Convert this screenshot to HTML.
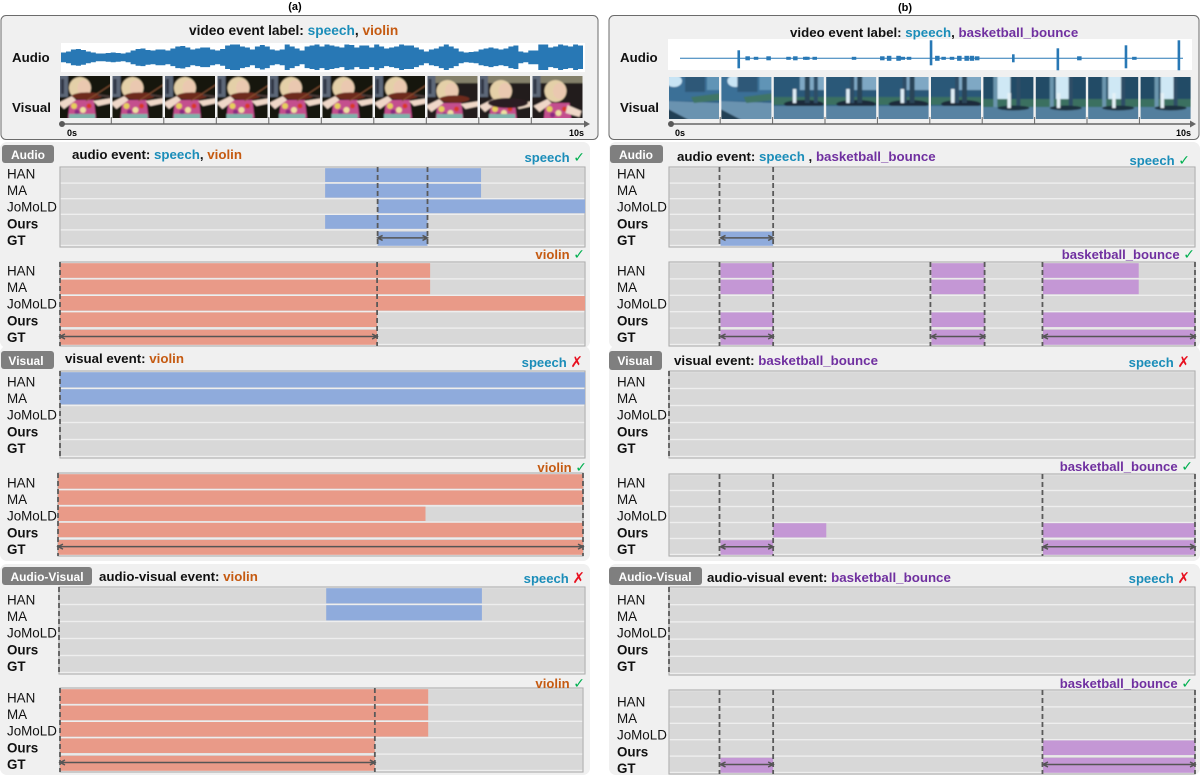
<!DOCTYPE html>
<html lang="en">
<head>
<meta charset="utf-8">
<title>Audio-visual event parsing comparison</title>
<style>
html,body{margin:0;padding:0;background:#fff;width:1200px;height:776px;overflow:hidden}
svg{display:block}
text{font-family:"Liberation Sans",sans-serif}
.b{font-weight:bold}
.sp{fill:#1b8db9}.vi{fill:#c55a11}.bb{fill:#7030a0}
.ok{fill:#00b050;font-family:"DejaVu Sans",sans-serif;font-weight:normal;font-size:14px}
.no{fill:#e8101f;font-family:"DejaVu Sans",sans-serif;font-weight:normal;font-size:15px}
.tt{font-size:13.3px;font-weight:bold;fill:#111}
.vt{font-size:13.7px;font-weight:bold;fill:#111}
.vtb{font-size:13.3px;font-weight:bold;fill:#111}
.lb{font-size:13.1px;font-weight:bold}
.tag{font-size:12px;font-weight:bold;fill:#fff}
</style>
</head>
<body>
<svg id="fig" xmlns="http://www.w3.org/2000/svg" width="1200" height="776" viewBox="0 0 1200 776">
<defs>
<clipPath id="fc"><rect x="0" y="0" width="50" height="42"/></clipPath>
<filter id="bl" x="-10%" y="-10%" width="120%" height="120%"><feGaussianBlur stdDeviation="0.75"/></filter>
</defs>
<rect width="1200" height="776" fill="#fff"/>

<g id="panels" fill="#f0f0f0">
<rect x="0" y="142" width="590" height="206" rx="7"/>
<rect x="0" y="346" width="590" height="215" rx="7"/>
<rect x="0" y="564" width="590" height="211" rx="7"/>
<rect x="609" y="142" width="591" height="206" rx="7"/>
<rect x="609" y="346" width="591" height="215" rx="7"/>
<rect x="609" y="564" width="591" height="211" rx="7"/>
</g>

<rect x="1" y="15.5" width="597" height="124" rx="5" fill="#f0f0f0" stroke="#6b6b6b" stroke-width="1"/>
<rect x="609" y="15.5" width="590" height="124" rx="5" fill="#f0f0f0" stroke="#6b6b6b" stroke-width="1"/>

<rect x="61" y="43" width="524" height="29" fill="#fff"/>
<rect x="668" y="39" width="524" height="31" fill="#fff"/>

<text x="295" y="10" font-size="11" font-weight="bold" text-anchor="middle">(a)</text>
<text x="905" y="11" font-size="11" font-weight="bold" text-anchor="middle">(b)</text>

<text class="vt" x="189" y="35">video event label: <tspan class="sp">speech</tspan>, <tspan class="vi">violin</tspan></text>
<text class="vtb" x="790" y="37">video event label: <tspan class="sp">speech</tspan>, <tspan class="bb">basketball_bounce</tspan></text>

<text class="tt" x="12" y="62">Audio</text>
<text class="tt" x="12" y="112">Visual</text>
<text class="tt" x="620" y="62">Audio</text>
<text class="tt" x="620" y="112">Visual</text>

<g id="waves"></g>
<g id="frames"></g>
<g id="timelines"></g>

<rect x="2" y="145" width="52" height="18" rx="3" fill="#7f7f7f"/>
<text class="tag" x="28" y="159" text-anchor="middle">Audio</text>
<rect x="1" y="351" width="53" height="18" rx="3" fill="#7f7f7f"/>
<text class="tag" x="26" y="365" text-anchor="middle">Visual</text>
<rect x="2" y="567" width="90" height="18" rx="3" fill="#7f7f7f"/>
<text class="tag" x="47" y="581" text-anchor="middle">Audio-Visual</text>
<rect x="610" y="145" width="53" height="18" rx="3" fill="#7f7f7f"/>
<text class="tag" x="636" y="159" text-anchor="middle">Audio</text>
<rect x="609" y="351" width="53" height="19" rx="3" fill="#7f7f7f"/>
<text class="tag" x="635" y="365" text-anchor="middle">Visual</text>
<rect x="609" y="567" width="93" height="18" rx="3" fill="#7f7f7f"/>
<text class="tag" x="655" y="581" text-anchor="middle">Audio-Visual</text>

<text class="tt" x="72" y="159">audio event: <tspan class="sp">speech</tspan>, <tspan class="vi">violin</tspan></text>
<text class="tt" x="65" y="363">visual event: <tspan class="vi">violin</tspan></text>
<text class="tt" x="99" y="581">audio-visual event: <tspan class="vi">violin</tspan></text>
<text class="tt" x="677" y="161">audio event: <tspan class="sp">speech</tspan> , <tspan class="bb">basketball_bounce</tspan></text>
<text class="tt" x="674" y="365">visual event: <tspan class="bb">basketball_bounce</tspan></text>
<text class="tt" x="707" y="582">audio-visual event: <tspan class="bb">basketball_bounce</tspan></text>

<g id="charts"></g>

<g text-anchor="end">
<text class="lb sp" x="585" y="162">speech <tspan class="ok">✓</tspan></text>
<text class="lb vi" x="585" y="259">violin <tspan class="ok">✓</tspan></text>
<text class="lb sp" x="583" y="367">speech <tspan class="no">✗</tspan></text>
<text class="lb vi" x="587" y="472">violin <tspan class="ok">✓</tspan></text>
<text class="lb sp" x="585" y="583">speech <tspan class="no">✗</tspan></text>
<text class="lb vi" x="585" y="688">violin <tspan class="ok">✓</tspan></text>
<text class="lb sp" x="1190" y="165">speech <tspan class="ok">✓</tspan></text>
<text class="lb bb" x="1195" y="259">basketball_bounce <tspan class="ok">✓</tspan></text>
<text class="lb sp" x="1190" y="367">speech <tspan class="no">✗</tspan></text>
<text class="lb bb" x="1193" y="471">basketball_bounce <tspan class="ok">✓</tspan></text>
<text class="lb sp" x="1190" y="583">speech <tspan class="no">✗</tspan></text>
<text class="lb bb" x="1193" y="688">basketball_bounce <tspan class="ok">✓</tspan></text>
</g>
</svg>

<script>
// ---- chart data (seconds, one list of intervals per model row) ----
const models = ['HAN', 'MA', 'JoMoLD', 'Ours', 'GT'];
const timeTickLabels = ['0s', '10s'];

const aAudioSpeech = [[[5.05, 8.02]], [[5.05, 8.02]], [[6.05, 10]], [[5.05, 7]], [[6.05, 7]]];
const aAudioViolin = [[[0, 7.05]], [[0, 7.05]], [[0, 10]], [[0, 6.04]], [[0, 6.04]]];
const aVisualSpeech = [[[0, 10]], [[0, 10]], [], [], []];
const aVisualViolin = [[[0, 10]], [[0, 10]], [[0, 7]], [[0, 10]], [[0, 10]]];
const aAvSpeech = [[[5.08, 8.04]], [[5.08, 8.04]], [], [], []];
const aAvViolin = [[[0, 7.04]], [[0, 7.04]], [[0, 7.04]], [[0, 6.02]], [[0, 6.02]]];

const bAudioSpeech = [[], [], [], [], [[0.98, 1.98]]];
const bAudioBounce = [[[0.98, 1.98], [4.99, 6], [7.11, 8.93]], [[0.98, 1.98], [4.99, 6], [7.11, 8.93]], [], [[0.98, 1.98], [4.99, 6], [7.11, 10]], [[0.98, 1.98], [4.99, 6], [7.11, 10]]];
const bVisualSpeech = [[], [], [], [], []];
const bVisualBounce = [[], [], [], [[1.98, 2.99], [7.11, 10]], [[0.98, 1.98], [7.11, 10]]];
const bAvSpeech = [[], [], [], [], []];
const bAvBounce = [[], [], [], [[7.11, 10]], [[0.98, 1.98], [7.11, 10]]];

const aAudioSpeechBounds = [6.05, 7];
const aAudioViolinBounds = [0, 6.04];
const aVisualSpeechBounds = [0];
const aVisualViolinBounds = [0, 10];
const aAvSpeechBounds = [0];
const aAvViolinBounds = [0, 6.02];
const bAudioSpeechBounds = [0.96, 1.98];
const bAudioBounceBounds = [0.96, 1.98, 4.97, 6, 7.1, 10];
const bVisualSpeechBounds = [0];
const bVisualBounceBounds = [0.96, 1.98, 7.1, 10];
const bAvSpeechBounds = [0];
const bAvBounceBounds = [0.96, 1.98, 7.1, 10];

// audio envelope of clip (a): half-height in px, evenly over 10 s
const waveAmpsA = [5,6,8,8.5,7.5,6,5,4,4,4.5,5,4.5,4,5,7,8.5,9,7.5,7,8,8,7,9,11,11.5,10,8,9,10,10,8,7,8.5,12,13,13,11,10,8,11,12.5,11,8,7,8,13,11,9,7,11,12,13,11,13,12,11,10,13,12.5,10,12,12,10,13,11,9,10,11,13,12,12,10,8,6,8,9,11,13,11,9,6,5,5.5,6,8,9,10,9,8,9,11,12,6,5,7,7,13,13,10,11,13,12,11,13,12];
// audio transients of clip (b): time in s, extent above and below the baseline in px
const waveTimesB = [1.35, 1.52, 1.68, 1.92, 2.3, 2.43, 2.62, 2.66, 2.8, 3.55, 4.09, 4.22, 4.4, 4.48, 4.6, 5.02, 5.14, 5.26, 5.42, 5.56, 5.7, 5.8, 5.9, 6.59, 7.44, 7.85, 8.74, 8.9, 9.75];
const waveUpB = [8, 2, 1.5, 2, 1.5, 2, 1.5, 1.5, 1.5, 1.5, 2, 2.5, 2.5, 1.5, 1.5, 18, 2.5, 1.5, 1.5, 2.5, 2.5, 2.5, 2, 4, 10, 2, 13, 1.5, 18];
const waveDownB = [10, 2, 1.5, 2, 1.5, 2, 1.5, 1.5, 1.5, 1.5, 2, 2.5, 2.5, 1.5, 1.5, 7, 2.5, 1.5, 1.5, 2.5, 2.5, 2.5, 2, 4, 12, 2, 10, 1.5, 12];

// ---- shared helpers ----
const NS = 'http://www.w3.org/2000/svg';
function mk(parent, tag, attrs) {
  const el = document.createElementNS(NS, tag);
  for (const k in attrs) el.setAttribute(k, attrs[k]);
  parent.appendChild(el);
  return el;
}
function linear(d0, d1, r0, r1) {
  return v => r0 + (v - d0) / (d1 - d0) * (r1 - r0);
}

// ---- waveforms ----
const waves = document.getElementById('waves');
(function () {
  const x = linear(0, waveAmpsA.length, 61, 583);
  const cy = 57.5;
  let top = 'M' + x(0) + ' ' + (cy - waveAmpsA[0]), bot = '';
  waveAmpsA.forEach((a, i) => {
    top += 'V' + (cy - a).toFixed(1) + 'H' + x(i + 1).toFixed(1);
  });
  for (let i = waveAmpsA.length - 1; i >= 0; i--) {
    bot += 'V' + (cy + waveAmpsA[i] * 0.96).toFixed(1) + 'H' + x(i).toFixed(1);
  }
  const p = mk(waves, 'path', { d: top + bot + 'Z', fill: '#2878b5' });
  
  

  const tx = linear(0, 10, 668, 1192);
  const cb = 58.3;
  const base = mk(waves, 'line', { x1: 680, x2: 1183, y1: cb, y2: cb, stroke: '#2878b5', 'stroke-width': 1 });
  
  
  waveTimesB.forEach((t, i) => {
    const up = waveUpB[i], dn = waveDownB[i];
    const w = up > 3.5 ? 2.6 : 4.5;
    const s = mk(waves, 'rect', { x: tx(t) - w / 2, y: cb - up, width: w, height: up + dn, fill: '#2878b5' });
    
    
  });
})();

// ---- video frames (schematic thumbnails) ----
const frames = document.getElementById('frames');
function girlFrame(i) {
  const late = i >= 7, last = i === 9, nine = i === 8;
  const dx = [0, 0, 0, 1, 1, 1, 1, 0, 1, 3][i];
  let s = '<g filter="url(#bl)"><rect x="-3" y="-3" width="56" height="48" fill="' + (late ? '#231f1a' : '#171410') + '"/>';
  if (late) s += '<rect x="-3" y="-3" width="56" height="10" fill="#84806a"/>';
  s += '<rect x="-3" y="-3" width="11" height="24" fill="#5d6878"/><rect x="1" y="3" width="3" height="15" fill="#2f3644"/>';
  s += '<g transform="translate(' + dx + ' ' + (late ? 3 : 0) + ')">';
  s += '<ellipse cx="20" cy="12" rx="11" ry="11" fill="#e4d0a8"/><ellipse cx="24" cy="12" rx="6.5" ry="8" fill="#eac8b0"/>';
  s += '<path d="M10 24L34 24L36 42L8 42Z" fill="#c44f8e"/>';
  s += '<circle cx="14" cy="30" r="3" fill="#e6cf5c"/><circle cx="23" cy="34" r="3" fill="#efe0a0"/><circle cx="29" cy="30" r="2.5" fill="#d8382c"/><circle cx="17" cy="36" r="2.5" fill="#8a2a80"/>';
  s += '<path d="M-2 27L12 20L16 24L4 33Z" fill="#efd7c8"/>';
  if (!last) {
    s += '<path d="M33 25L52 22L52 27L38 30Z" fill="#efd8c8"/>';
    s += '<ellipse cx="27" cy="' + (nine ? 24 : 20) + '" rx="' + (nine ? 20 : 15) + '" ry="' + (nine ? 5 : 3.6) + '" fill="' + (nine ? '#2c1e20' : '#6e2c1c') + '"/>';
    if (!late) s += '<path d="M38 19L52 21" stroke="#4a3a38" stroke-width="2"/><path d="M26 25L52 8" stroke="#8a5434" stroke-width="1"/>';
  } else {
    s += '<path d="M32 26L46 32L44 38L30 34Z" fill="#efd8c8"/>';
  }
  s += '</g>';
  if (!last) s += '<rect x="9" y="38" width="26" height="6" fill="#7fb2aa"/>';
  s += '</g>';
  return s;
}
function parkFrame(i) {
  let s = '<g filter="url(#bl)"><rect x="-3" y="-3" width="56" height="48" fill="#2f6184"/>';
  if (i < 2) {
    s += '<rect x="-3" y="-3" width="56" height="27" fill="#3a6f97"/><ellipse cx="' + (i ? 14 : 5) + '" cy="4" rx="8" ry="6" fill="#c8e4f4"/>';
    s += '<rect x="16" y="-3" width="20" height="18" fill="#2d5878"/><rect x="38" y="-3" width="14" height="16" fill="#6094b6"/>';
    s += '<path d="M-3 24L53 26L53 45L-3 45Z" fill="#6a93b0"/><path d="M-3 31L24 45L-3 45Z" fill="#233f54"/>';
    s += '<path d="M22 20L53 16L53 23L25 26Z" fill="#3f7466"/>';
  } else if (i < 6) {
    s += '<rect x="-3" y="-3" width="56" height="27" fill="#2a5878"/><rect x="26" y="-3" width="27" height="16" fill="#7fa8c4"/>';
    s += '<rect x="-3" y="20" width="56" height="8" fill="#3b6f60"/><ellipse cx="30" cy="27" rx="20" ry="4" fill="#1c2c3a"/>';
    s += '<rect x="-3" y="29" width="56" height="16" fill="#5883a3"/>';
    s += '<rect x="31" y="-3" width="5" height="29" fill="#2a4458"/><rect x="' + (i === 2 ? 40 : 24) + '" y="-3" width="4" height="29" fill="#2f4e66"/>';
    s += '<rect x="' + [0, 0, 19, 20, 22, 20][i] + '" y="12" width="3.5" height="14" fill="#e0eef6"/>';
  } else {
    s += '<rect x="-3" y="-3" width="56" height="27" fill="#244c66"/><rect x="' + (i === 6 ? 14 : 20) + '" y="-3" width="13" height="25" fill="#cfe8f5"/>';
    s += '<rect x="-3" y="22" width="56" height="8" fill="#3a7060"/><rect x="-3" y="30" width="56" height="15" fill="#527f9e"/>';
    s += '<rect x="' + (i === 6 ? 10 : 14) + '" y="-3" width="4" height="33" fill="#6c96ae"/><rect x="33" y="-3" width="4" height="33" fill="#2f4e66"/>';
    s += '<ellipse cx="30" cy="31" rx="16" ry="2.5" fill="#1f3040"/>';
    s += '<rect x="' + [0, 0, 0, 0, 0, 0, 24, 21, 24, 20][i] + '" y="16" width="3.5" height="15" fill="#e4f0f6"/>';
  }
  s += '</g>';
  return s;
}
for (let i = 0; i < 10; i++) {
  const ga = mk(frames, 'g', { transform: 'translate(' + (60 + i * 52.5) + ' 76)', 'clip-path': 'url(#fc)' });
  
  
  ga.innerHTML = girlFrame(i);
  const gb = mk(frames, 'g', { transform: 'translate(' + (669 + i * 52.4) + ' 77)', 'clip-path': 'url(#fc)' });
  
  
  gb.innerHTML = parkFrame(i);
}

// ---- input timelines ----
const timelines = document.getElementById('timelines');
function drawTimeline(x0, x1, frame0, pitch, lab0, lab1) {
  const y = 124;
  const ln = mk(timelines, 'line', { x1: x0, x2: x1 - 4, y1: y, y2: y, stroke: '#666', 'stroke-width': 1.4 });
  
  
  const dot = mk(timelines, 'circle', { cx: x0, cy: y, r: 3, fill: '#595959' });
  
  
  const head = mk(timelines, 'path', { d: 'M' + x1 + ' ' + y + 'l-6 -3.5v7z', fill: '#666' });
  
  
  for (let i = 1; i < 10; i++) {
    const tx = frame0 + i * pitch - 1.2;
    const t = mk(timelines, 'line', { x1: tx, x2: tx, y1: 117, y2: y, stroke: '#666', 'stroke-width': 1 });
    
    
  }
  const a = mk(timelines, 'text', { x: lab0, y: 136, 'font-size': 9, 'font-weight': 'bold' });
  
  
  a.textContent = timeTickLabels[0];
  const b = mk(timelines, 'text', { x: lab1, y: 136, 'font-size': 9, 'font-weight': 'bold', 'text-anchor': 'end' });
  
  
  b.textContent = timeTickLabels[1];
}
drawTimeline(62, 590, 60, 52.5, 67, 584);
drawTimeline(671, 1196, 669, 52.4, 675, 1191);

// ---- event charts ----
const charts = document.getElementById('charts');
const BLUE = '#8fabdc', RED = '#e99a88', PURPLE = '#c497d5';

function drawChart(name, x0, x1, y0, y1, labelX, labelY, rows, bounds, color) {
  const g = mk(charts, 'g', {});
  
  
  const xs = linear(0, 10, x0, x1);
  const pitch = (y1 - y0 - 2) / models.length;
  const rowY = i => y0 + 1.2 + i * pitch;

  const frame = mk(g, 'rect', { x: x0, y: y0, width: x1 - x0, height: y1 - y0, fill: '#eeeeee', stroke: '#adadad', 'stroke-width': 1.1 });
  
  

  models.forEach((m, i) => {
    const track = mk(g, 'rect', { x: x0 + 0.6, y: rowY(i), width: x1 - x0 - 1.2, height: pitch - 1.4, fill: '#d8d8d8' });
    
    

    const bold = i >= 3;
    const label = mk(g, 'text', { x: labelX, y: labelY + i * 16.6 + 4.5, 'font-size': 13.4, 'font-weight': bold ? 'bold' : 'normal', fill: '#111' });
    
    
    label.textContent = m;

    rows[i].forEach(seg => {
      const bar = mk(g, 'rect', { x: xs(seg[0]), y: rowY(i) + (i === 4 ? 1 : 0), width: xs(seg[1]) - xs(seg[0]), height: pitch - 1.4 - (i === 4 ? 0 : 0.4), fill: color });
      
      
    });
  });

  bounds.forEach(b => {
    const d = mk(g, 'line', { x1: xs(b), x2: xs(b), y1: y0, y2: y1, stroke: '#5a5a5a', 'stroke-width': 1.8, 'stroke-dasharray': '5 3' });
    
    
  });

  const ay = rowY(4) + pitch * 0.47;
  rows[4].forEach(seg => {
    const a0 = xs(seg[0]), a1 = xs(seg[1]);
    const ar = mk(g, 'path', {
      d: 'M' + a0 + ' ' + ay + 'H' + a1 + 'M' + (a0 + 5) + ' ' + (ay - 2.5) + 'L' + a0 + ' ' + ay + 'L' + (a0 + 5) + ' ' + (ay + 2.5) + 'M' + (a1 - 5) + ' ' + (ay - 2.5) + 'L' + a1 + ' ' + ay + 'L' + (a1 - 5) + ' ' + (ay + 2.5),
      fill: 'none', stroke: '#555', 'stroke-width': 1.5
    });
    
    
  });
}

drawChart('chart-a-audio-speech', 60, 585, 167, 247, 7, 174, aAudioSpeech, aAudioSpeechBounds, BLUE);
drawChart('chart-a-audio-violin', 60, 585, 262, 346, 7, 271, aAudioViolin, aAudioViolinBounds, RED);
drawChart('chart-a-visual-speech', 60, 585, 371, 458, 7, 382, aVisualSpeech, aVisualSpeechBounds, BLUE);
drawChart('chart-a-visual-violin', 58, 583, 473, 556, 7, 483, aVisualViolin, aVisualViolinBounds, RED);
drawChart('chart-a-av-speech', 59, 585, 587, 674, 7, 600, aAvSpeech, aAvSpeechBounds, BLUE);
drawChart('chart-a-av-violin', 60, 583, 688, 772, 7, 698, aAvViolin, aAvViolinBounds, RED);
drawChart('chart-b-audio-speech', 669, 1195, 167, 247, 617, 174, bAudioSpeech, bAudioSpeechBounds, BLUE);
drawChart('chart-b-audio-bounce', 669, 1195, 262, 346, 617, 271, bAudioBounce, bAudioBounceBounds, PURPLE);
drawChart('chart-b-visual-speech', 669, 1195, 371, 458, 617, 382, bVisualSpeech, bVisualSpeechBounds, BLUE);
drawChart('chart-b-visual-bounce', 669, 1195, 474, 556, 617, 483, bVisualBounce, bVisualBounceBounds, PURPLE);
drawChart('chart-b-av-speech', 669, 1195, 587, 675, 617, 600, bAvSpeech, bAvSpeechBounds, BLUE);
drawChart('chart-b-av-bounce', 669, 1195, 690, 774, 617, 702, bAvBounce, bAvBounceBounds, PURPLE);
</script>
</body>
</html>
